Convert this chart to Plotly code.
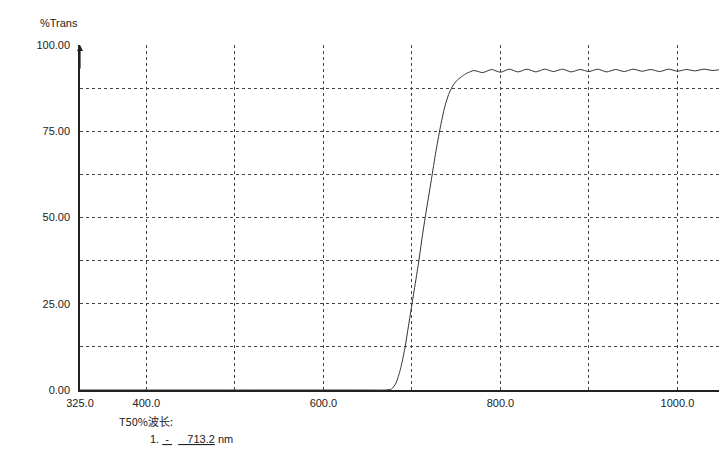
import plotly.graph_objects as go

# Transmission curve
wavelength = [325, 400, 500, 600, 650, 670, 677, 682, 687, 692, 697, 702, 707, 712, 715,
              722, 727, 732, 737, 742, 747, 752, 757, 762, 770, 780, 790, 800, 810, 820,
              830, 840, 850, 860, 870, 880, 890, 900, 910, 920, 930, 940, 950, 960, 970,
              980, 990, 1000, 1010, 1020, 1030, 1040, 1050, 1056]
trans = [0, 0, 0, 0, 0, 0, 0.3, 2, 6, 12, 20, 28, 36, 45, 50,
         61, 69, 76, 82, 86, 88.5, 90, 91, 91.8, 92.6, 92.0, 92.9, 92.1, 93.0, 92.2,
         93.0, 92.2, 93.0, 92.3, 93.0, 92.2, 92.9, 92.3, 93.0, 92.2, 92.9, 92.3, 93.0, 92.4,
         92.9, 92.3, 93.0, 92.4, 92.9, 92.5, 93.0, 92.6, 92.9, 92.7]

x_ticks = [325, 400, 500, 600, 700, 800, 900, 1000]
x_labels = ["325.0", "400.0", "", "600.0", "", "800.0", "", "1000.0"]
y_ticks = [0, 12.5, 25, 37.5, 50, 62.5, 75, 87.5, 100]
y_labels = ["0.00", "", "25.00", "", "50.00", "", "75.00", "", "100.00"]

fig = go.Figure()
fig.add_trace(go.Scatter(x=wavelength, y=trans, mode="lines",
                         line=dict(color="#333333", width=1, shape="spline", smoothing=0.6),
                         showlegend=False))

fig.update_layout(
    width=727, height=464,
    margin=dict(l=72, r=8, t=37, b=82, autoexpand=False),
    paper_bgcolor="white", plot_bgcolor="white",
    font=dict(family="Liberation Sans, Arial", size=11, color="#222"),
    xaxis=dict(range=[325, 1056], tickvals=x_ticks, ticktext=x_labels,
               showgrid=True, gridcolor="#444", griddash="dot", gridwidth=1,
               showline=True, linecolor="#222", linewidth=1.5, zeroline=False,
               ticks="", ticklabelstandoff=2),
    yaxis=dict(range=[0, 100], tickvals=y_ticks, ticktext=y_labels,
               showgrid=True, gridcolor="#444", griddash="dot", gridwidth=1,
               showline=True, linecolor="#222", linewidth=1.5, zeroline=False,
               ticks="", ticklabelstandoff=6),
)

fig.add_annotation(x=0, y=1, xref="paper", yref="paper", ax=0, ay=25,
                   showarrow=True, arrowhead=2, arrowsize=1, arrowwidth=1.2,
                   arrowcolor="#222", text="")
fig.add_annotation(x=-0.065, y=1.087, xref="paper", yref="paper", showarrow=False,
                   text="%Trans", xanchor="left", font=dict(size=11))
fig.add_annotation(x=0.057, y=-0.12, xref="paper", yref="paper", showarrow=False,
                   text="T50%波长:", xanchor="left",
                   font=dict(size=11, family="Noto Sans CJK SC"))
fig.add_annotation(x=0.105, y=-0.165, xref="paper", yref="paper", showarrow=False,
                   text="1. <u> - </u>  <u>   713.2</u> nm", xanchor="left", font=dict(size=11))

fig.write_html("out.html")
